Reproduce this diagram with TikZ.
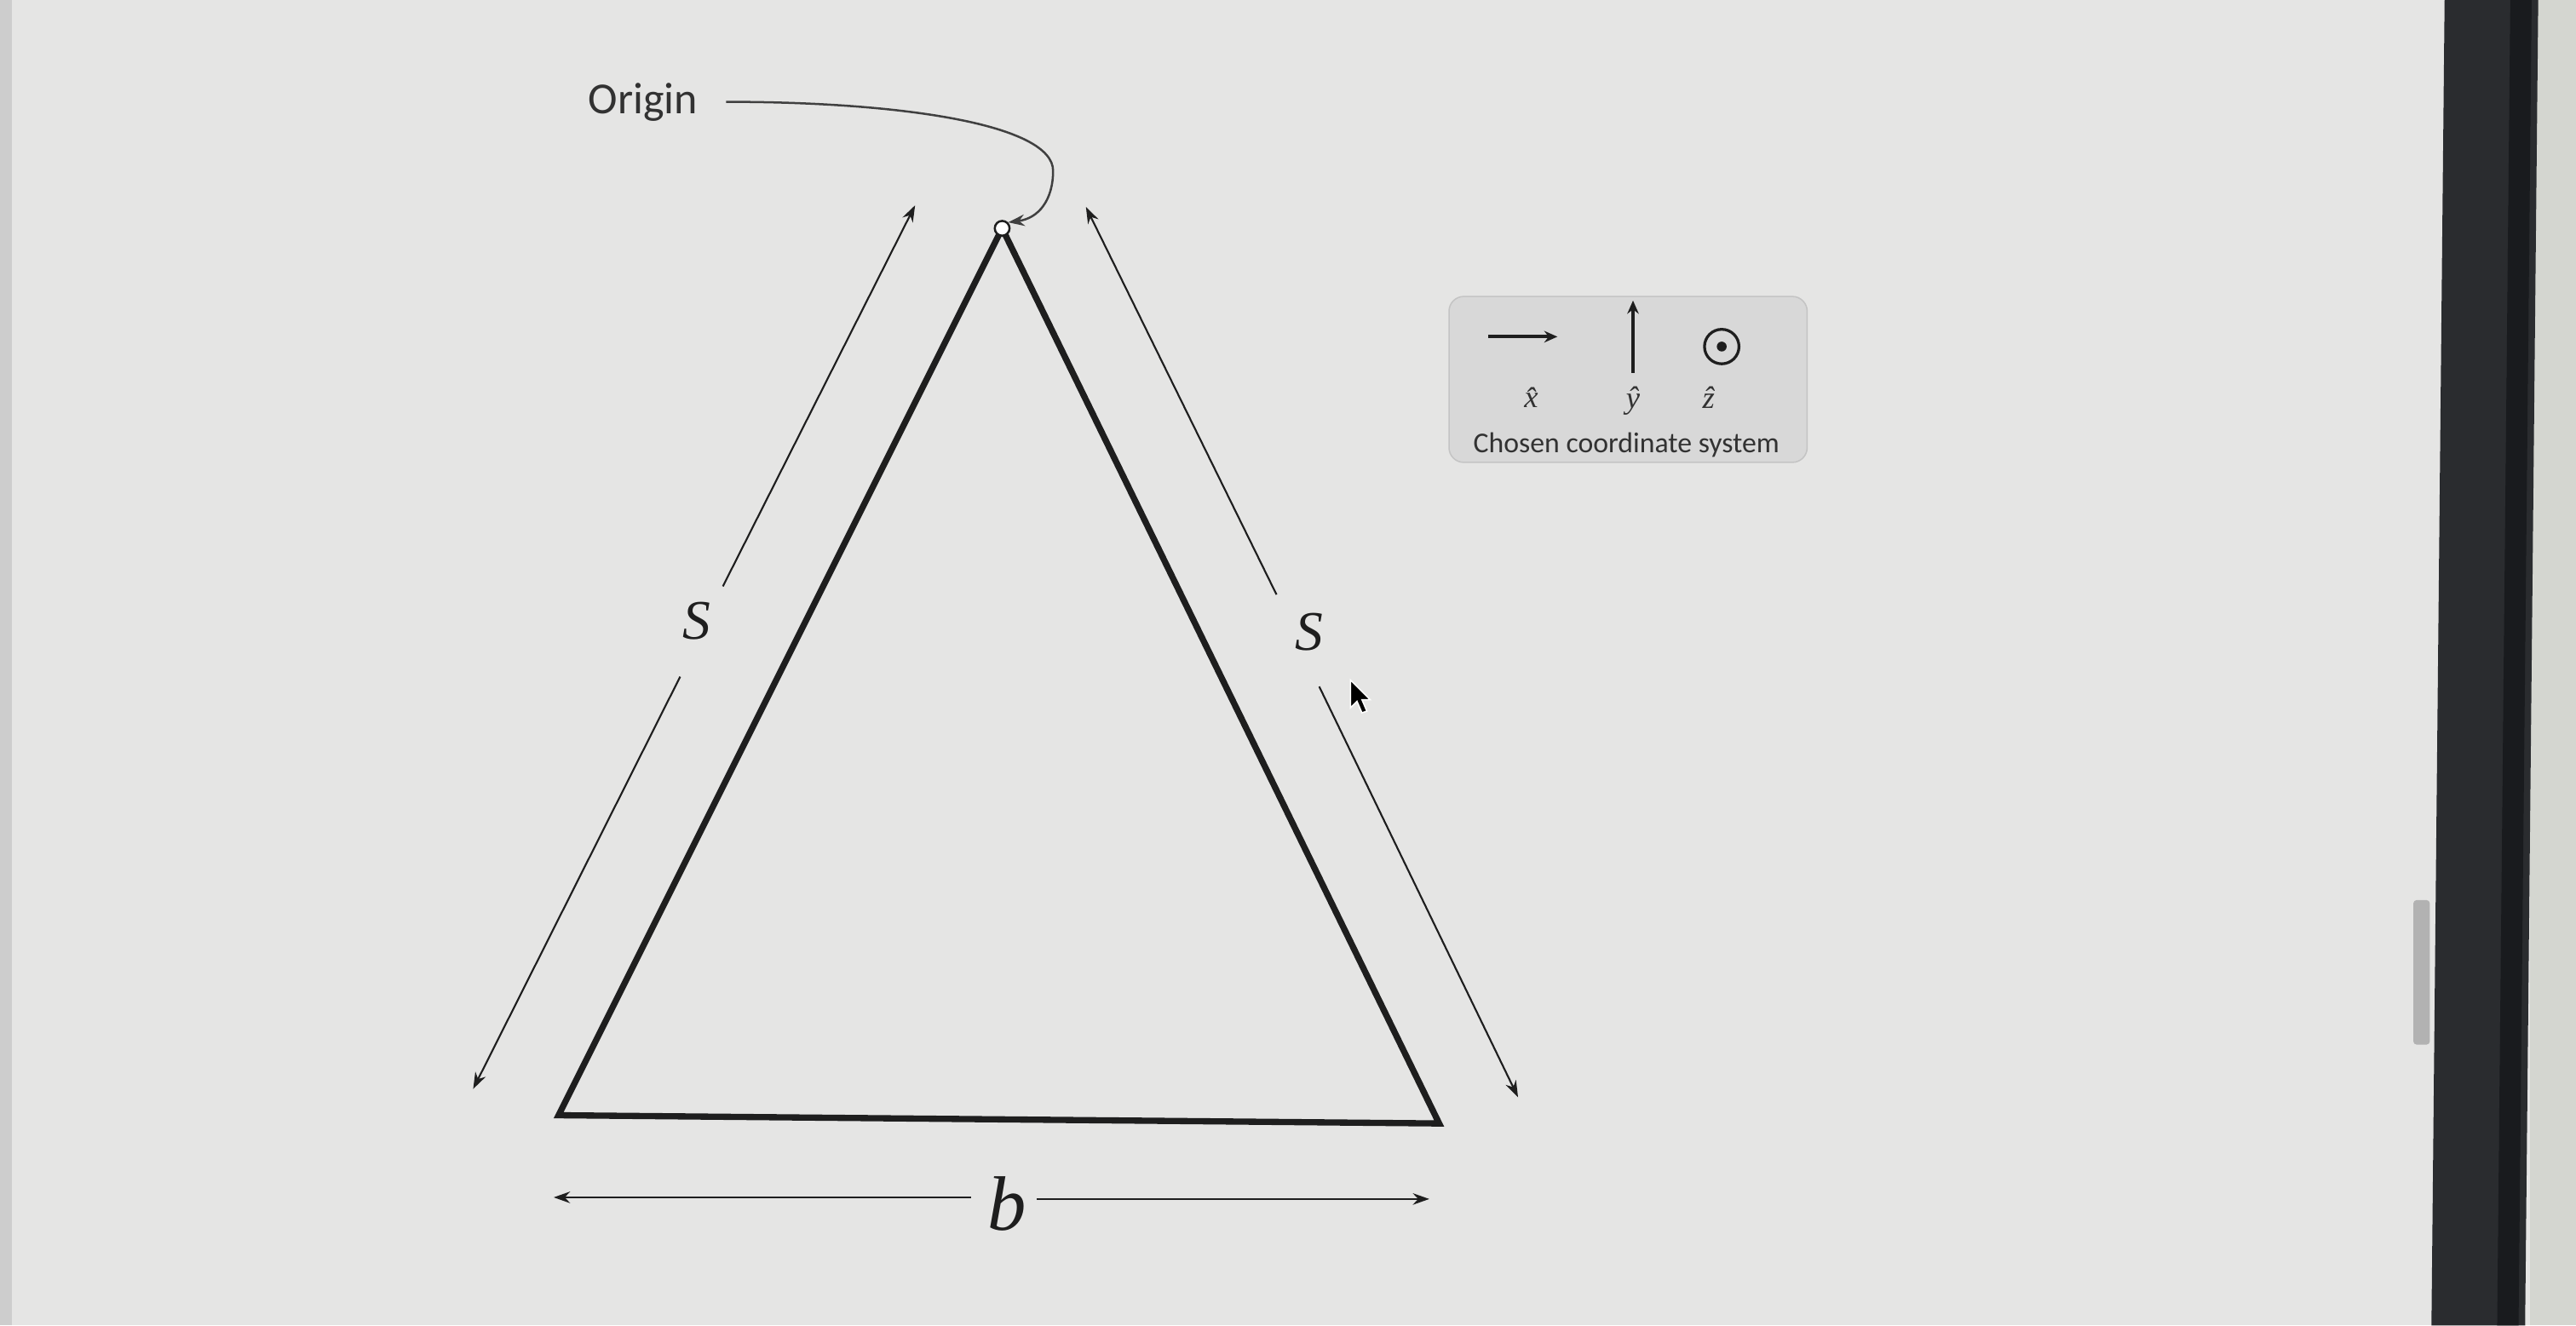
\documentclass[tikz,border=0pt]{standalone}
\usepackage{fontspec}
\setmainfont{Carlito}
\newfontfamily\lserif{Liberation Serif}
\usetikzlibrary{arrows.meta}
\definecolor{bg}{RGB}{229,229,228}
\definecolor{leftstrip}{RGB}{205,205,205}
\definecolor{bezel}{RGB}{42,44,47}
\definecolor{bezeldark}{RGB}{25,27,30}
\definecolor{edgecol}{RGB}{212,214,208}
\definecolor{boxfill}{RGB}{216,216,216}
\definecolor{boxline}{RGB}{196,196,196}
\definecolor{ink}{RGB}{30,30,30}
\definecolor{txt}{RGB}{50,50,50}
\tikzset{
  tri/.style={draw=ink, line width=3.8pt, line join=miter},
  dim/.style={draw=ink, line width=1.1pt, -{Stealth[length=10pt,width=7pt]}},
  lbl/.style={inner sep=0pt, text=ink},
  hatlbl/.style={inner sep=0pt, text=txt, font=\lserif\itshape\fontsize{19}{20}\selectfont},
  sanslbl/.style={inner sep=0pt, text=txt},
  vec/.style={draw=ink, line width=2.2pt, -{Stealth[length=8pt,width=7pt]}},
}
\begin{document}
\begin{tikzpicture}[x=1pt,y=-1pt]
\useasboundingbox (0,0) rectangle (1568,807);
% screen background
\fill[bg] (0,0) rectangle (1568,807);
\fill[leftstrip] (0,0) rectangle (7,807);
\fill[edgecol] (1540,0) rectangle (1568,807);
\fill[bezel] (1488,0) -- (1545,0) -- (1537,807) -- (1480,807) -- cycle;
\fill[bezeldark] (1528,0) -- (1541,0) -- (1533,807) -- (1520,807) -- cycle;
\fill[gray!60, rounded corners=2pt] (1469,548) rectangle (1479,636);

% triangle
\coordinate (A) at (610,139);
\coordinate (B) at (340,679);
\coordinate (C) at (876,684);
\draw[tri] (A) -- (B) -- (C) -- cycle;
\node[circle, draw=ink, fill=white, line width=1.3pt, minimum size=9pt, inner sep=0pt] (O) at (A) {};

% origin label and curved pointer
\node[sanslbl, font=\fontsize{27}{30}\selectfont, anchor=east] (orig) at (425,62) {Origin};
\coordinate (origS) at (442,62);
\coordinate (origM) at (641,104);
\draw[draw=ink!85, line width=1.3pt, -{Stealth[length=10pt,width=7pt]}]
  (origS) .. controls (550,62) and (641,76) .. (origM)
  .. controls (641,122) and (632,133) .. (O.north east);

% left dimension s
\node[lbl, font=\lserif\itshape\fontsize{34}{36}\selectfont] (sL) at (424,378) {S};
\coordinate (sLtop) at (557,125);
\coordinate (sLbot) at (288,663);
\coordinate (sLg1) at (440,357);
\coordinate (sLg2) at (414,412);
\draw[dim] (sLg1) -- (sLtop);
\draw[dim] (sLg2) -- (sLbot);

% right dimension s
\node[lbl, font=\lserif\itshape\fontsize{34}{36}\selectfont] (sR) at (797,385) {S};
\coordinate (sRtop) at (661,126);
\coordinate (sRbot) at (924,668);
\coordinate (sRg1) at (777,362);
\coordinate (sRg2) at (803,418);
\draw[dim] (sRg1) -- (sRtop);
\draw[dim] (sRg2) -- (sRbot);

% bottom dimension b
\node[lbl, font=\lserif\itshape\fontsize{47}{50}\selectfont] (bL) at (613,733) {b};
\coordinate (bleft) at (337,729);
\coordinate (bright) at (870,730);
\coordinate (bg1) at (591,729);
\coordinate (bg2) at (631,730);
\draw[dim, line width=1.3pt] (bg1) -- (bleft);
\draw[dim, line width=1.3pt] (bg2) -- (bright);

% coordinate system box
\node[draw=boxline, fill=boxfill, rounded corners=9pt, line width=0.8pt,
      minimum width=218pt, minimum height=101pt, inner sep=0pt] (csbox) at (991,231) {};
\coordinate (xs) at (906,205);
\coordinate (xe) at (948,205);
\draw[vec] (xs) -- (xe);
\coordinate (ys) at (994,227);
\coordinate (ye) at (994,183);
\draw[vec] (ys) -- (ye);
\node[circle, draw=ink, line width=1.7pt, minimum size=21pt, inner sep=0pt] (zc) at (1048,211) {};
\fill[ink] (zc.center) circle (3pt);
\node[hatlbl] (xl) at (932,242) {x^^^^0302};
\node[hatlbl] (yl) at (994,244) {y^^^^0302};
\node[hatlbl] (zl) at (1040,242) {z^^^^0302};
\node[sanslbl, font=\fontsize{17.5}{20}\selectfont] (cst) at (990,271) {Chosen coordinate system};

% mouse cursor
\fill[black, draw=white, line width=0.8pt] (822,414) -- (822,431) -- (826,427) -- (829,434) -- (832,433) -- (829,426) -- (834,426) -- cycle;
\end{tikzpicture}
\end{document}
